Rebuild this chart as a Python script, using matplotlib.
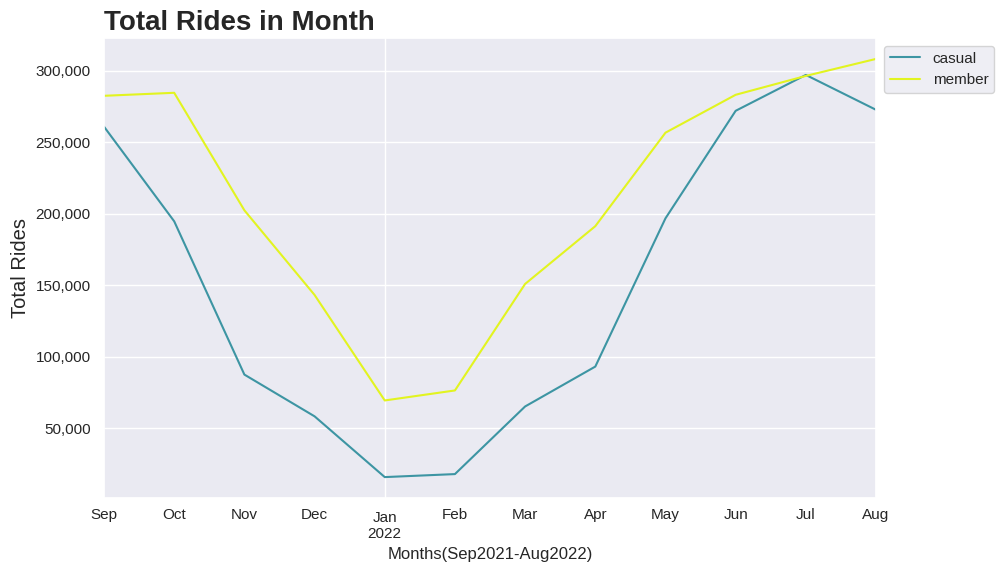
import pandas as pd
import matplotlib
matplotlib.use('Agg')
import matplotlib.pyplot as plt
import seaborn as sns

months = pd.period_range('2021-09', '2022-08', freq='M')
casual = [261000, 194800, 87600, 58400, 15900, 18000, 65300, 93200, 196900, 272100, 297200, 272800]
member = [282600, 284700, 202500, 143300, 69500, 76500, 151000, 191400, 256800, 283300, 296500, 308400]

sns.set_theme(style='darkgrid')
plt.rcParams['font.family'] = ['Liberation Sans', 'DejaVu Sans']

df = pd.DataFrame({'casual': casual, 'member': member}, index=months)

fig = plt.figure(figsize=(10.06, 5.74), dpi=100)
ax = fig.add_axes([0.1034, 0.1324, 0.7674, 0.8014])
df.plot(ax=ax, color=['#3d95a3', '#e2f420'], linewidth=1.5)

ax.set_title('Total Rides in Month', loc='left', fontsize=20, fontweight='bold')
ax.set_ylabel('Total Rides', fontsize=14.5)
ax.set_xlabel('Months(Sep2021-Aug2022)', fontsize=12)
ax.yaxis.set_major_formatter(matplotlib.ticker.StrMethodFormatter('{x:,.0f}'))
ax.tick_params(labelsize=11)
ax.legend(loc='upper left', bbox_to_anchor=(1, 1), fontsize=11)

fig.savefig('out.png', dpi=100)
